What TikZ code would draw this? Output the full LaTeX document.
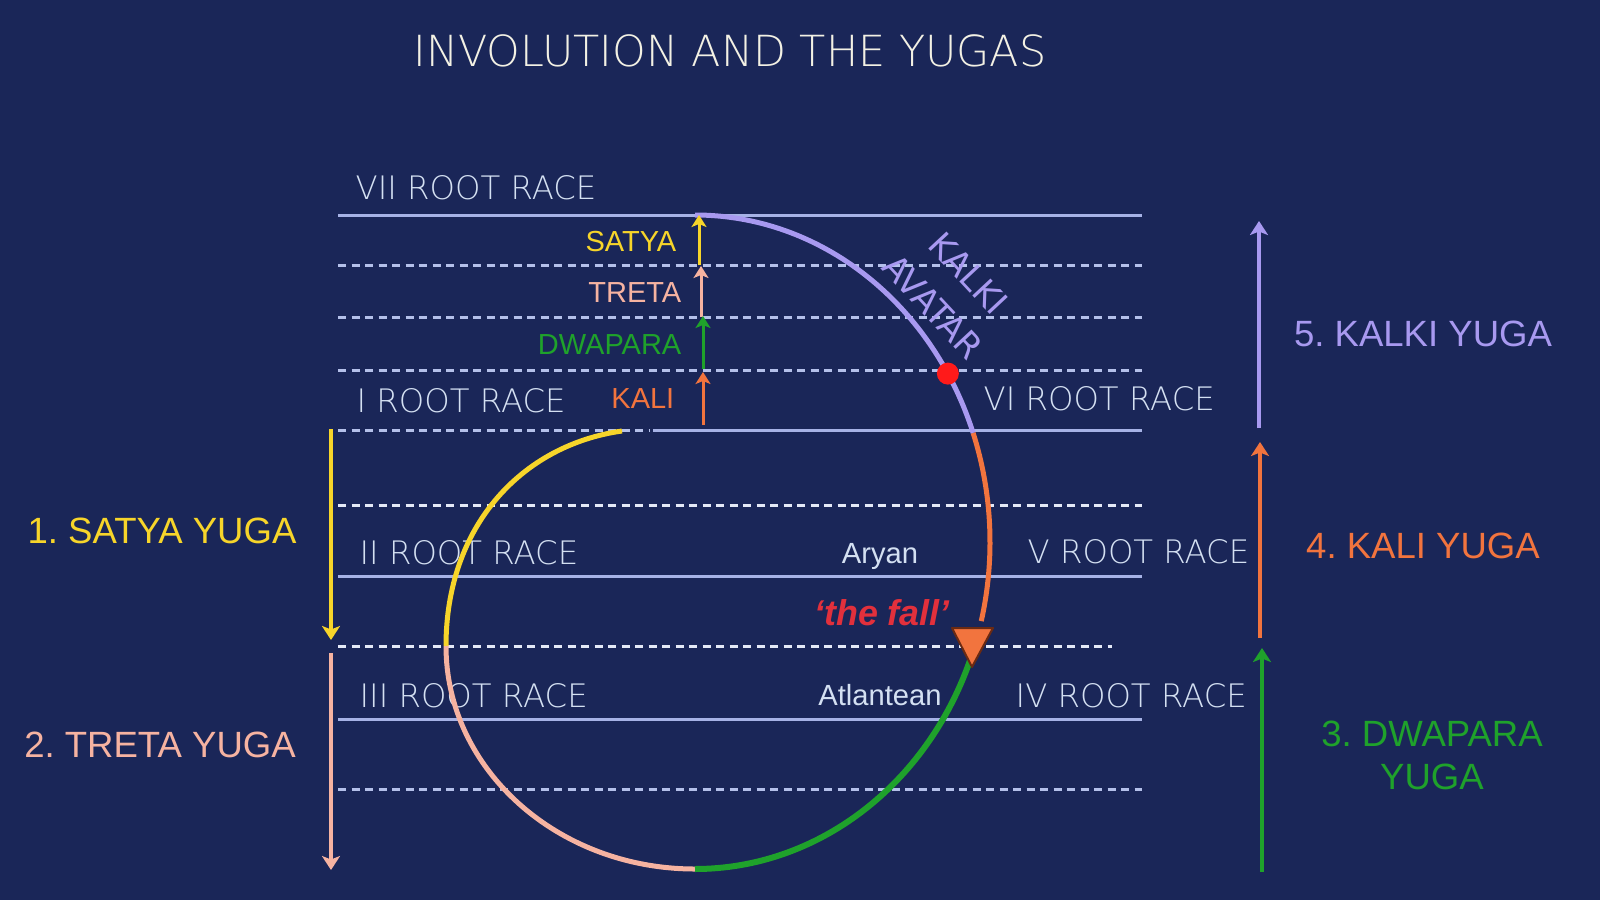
\documentclass[tikz,border=0pt]{standalone}
\usepackage{fontspec}
\setmainfont{Liberation Sans}
\newfontfamily\raceFont{DejaVu Sans ExtraLight}
\newfontfamily\avatarFont{DejaVu Sans}
\usepackage{xcolor}
\usepackage{tikz}
\usetikzlibrary{arrows.meta}
\usetikzlibrary{calc}
\usetikzlibrary{positioning}

\definecolor{bgNavy}{HTML}{1A2658}
\definecolor{ruleBlue}{HTML}{A6B2E6}
\definecolor{dashBlue}{HTML}{B4C0EA}
\definecolor{dashWhite}{HTML}{E4E9F7}
\definecolor{raceText}{HTML}{D4E0F2}
\definecolor{titleCream}{HTML}{F3F1E4}
\definecolor{kalkiLav}{HTML}{A899F0}
\definecolor{kaliOrange}{HTML}{F2743E}
\definecolor{dwaparaGreen}{HTML}{1FA22B}
\definecolor{tretaSalmon}{HTML}{F6B3A1}
\definecolor{satyaYellow}{HTML}{F7D52A}
\definecolor{fallRed}{HTML}{E2303C}
\definecolor{dotRed}{HTML}{FF1A1A}
\definecolor{triBrown}{HTML}{6B2A12}

\begin{document}
\frenchspacing
\begin{tikzpicture}[
  x=1mm, y=1mm,
  spiral/.style={line width=0.5mm},
  yugaArrow/.style={-{Stealth[length=1.4mm,width=1.8mm,inset=0.35mm]}, line width=0.4mm},
  stepArrow/.style={-{Stealth[length=1.2mm,width=1.5mm,inset=0.3mm]}, line width=0.3mm},
  % yugaText/.style={},
]

\tikzset{
  raceRule/.style={draw=ruleBlue, line width=0.3mm},
  dashRule/.style={draw=#1, line width=0.3mm, dash pattern=on 0.8mm off 0.55mm},
  bigYuga/.style={font=\fontsize{10.4}{12.2}\selectfont, inner sep=0, align=center},
  smallYuga/.style={font=\fontsize{8.25}{10}\selectfont, anchor=base east, inner sep=0},
  kalkiText/.style={font=\avatarFont\fontsize{9.7}{13.8}\selectfont, text=kalkiLav, inner sep=0, align=center, rotate=-47}
}

\fill[bgNavy] (0,0) rectangle (160,90);
\useasboundingbox (0,0) rectangle (160,90);

\node[font=\raceFont\fontsize{12.2}{14}\selectfont, text=titleCream, inner sep=0] (title) at (73.0,84.9) {INVOLUTION AND THE YUGAS};

% --- Begin Rules ---
\foreach \y in {68.5,32.4,18.1} {
  \draw[raceRule] (33.8,\y) -- (114.2,\y);
}
\foreach \y in {63.5,58.3,53.0,11.1} {
  \draw[dashRule=dashBlue] (33.8,\y) -- (114.2,\y);
}
\draw[dashRule=dashBlue] (33.8,47.0) -- (65.0,47.0);
\draw[raceRule] (65.3,47.0) -- (114.2,47.0);
\draw[dashRule=dashWhite] (33.8,39.5) -- (114.2,39.5);
\draw[dashRule=dashWhite] (33.8,25.4) -- (111.2,25.4);

\begin{scope}[
  every node/.style={font=\raceFont\fontsize{9.2}{11}\selectfont, text=raceText, anchor=base west, inner sep=0}
  ]
\node (raceSeven) at (35.5,70.1) {VII ROOT RACE};
\node (raceOne) at (35.6,48.8) {I ROOT RACE};
\node (raceSix) at (98.3,49.0) {VI ROOT RACE};
\node (raceTwo) at (35.9,33.6) {II ROOT RACE};
\node (raceFive) at (102.7,33.7) {V ROOT RACE};
\node (raceThree) at (35.9,19.3) {III ROOT RACE};
\node (raceFour) at (101.5,19.3) {IV ROOT RACE};
\end{scope}

\begin{scope}[every node/.style={font=\fontsize{8.3}{10}\selectfont, text=raceText, anchor=base, inner sep=0}]
\node (aryan) at (88.0,33.7) {Aryan};
\node (atlantean) at (88.0,19.5) {Atlantean};
\end{scope}
\node[font=\fontsize{10.2}{12}\selectfont\bfseries\itshape, text=fallRed, anchor=base, inner sep=0] (theFall) at (88.2,27.5) {‘the fall’};

% --- Begin Spiral ---
\coordinate (ctrRight) at (69.5,35.8);
\coordinate (ctrLeft) at (69.5,25.4);
\coordinate (spiralStart) at (62.2,46.9);
\coordinate (leftMost) at (44.6,25.4);
\coordinate (bottom) at (69.5,3.1);

\draw[spiral, satyaYellow] (spiralStart) .. controls (52.2,45.5) and (44.6,37.4) .. (leftMost);
\draw[spiral, tretaSalmon] (leftMost) arc[start angle=180, end angle=270, x radius=24.9mm, y radius=22.3mm];
\draw[spiral, dwaparaGreen, line width=0.6mm] (bottom) arc[start angle=-90, end angle=-21, x radius=29.5mm, y radius=32.7mm];
\draw[spiral, kaliOrange] (ctrRight) ++(-14:29.5mm and 32.7mm) arc[start angle=-14, end angle=19.5, x radius=29.5mm, y radius=32.7mm];
\draw[spiral, kalkiLav] (ctrRight) ++(19.5:29.5mm and 32.7mm) arc[start angle=19.5, end angle=90, x radius=29.5mm, y radius=32.7mm];

\filldraw[fill=kaliOrange, draw=triBrown, line width=0.2mm, line join=round] (95.2,27.2) -- (99.3,27.2) -- (97.2,23.3) -- cycle;
\path (ctrRight) ++(31:29.5mm and 32.7mm) node[circle, fill=dotRed, minimum size=2.2mm, inner sep=0] (kalkiDot) {};

\node[kalkiText] (kalkiAvatar) at (95.1,61.0) {KALKI\\AVATAR};

% --- Begin Small Yuga Steps ---
\coordinate (satyaLo) at (69.9,63.5);   \coordinate (satyaHi) at (69.9,68.5);
\coordinate (tretaLo) at (70.1,58.3);   \coordinate (tretaHi) at (70.1,63.4);
\coordinate (dwaparaLo) at (70.3,53.1); \coordinate (dwaparaHi) at (70.3,58.4);
\coordinate (kaliLo) at (70.3,47.5);    \coordinate (kaliHi) at (70.3,52.8);

\draw[stepArrow, satyaYellow] (satyaLo) -- (satyaHi);
\draw[stepArrow, tretaSalmon] (tretaLo) -- (tretaHi);
\draw[stepArrow, dwaparaGreen] (dwaparaLo) -- (dwaparaHi);
\draw[stepArrow, kaliOrange] (kaliLo) -- (kaliHi);

\node[smallYuga, text=satyaYellow] (satyaStep) at (67.7,64.9) {SATYA};
\node[smallYuga, text=tretaSalmon] (tretaStep) at (68.2,59.8) {TRETA};
\node[smallYuga, text=dwaparaGreen] (dwaparaStep) at (68.2,54.6) {DWAPARA};
\node[smallYuga, text=kaliOrange] (kaliStep) at (67.5,49.2) {KALI};

% --- Begin Big Yuga Arrows ---
\coordinate (kalkiLo) at (125.9,47.2);  \coordinate (kalkiHi) at (125.9,67.9);
\coordinate (kaliBLo) at (126.0,26.2);  \coordinate (kaliBHi) at (126.0,45.8);
\coordinate (dwapBLo) at (126.2,2.8);   \coordinate (dwapBHi) at (126.2,25.2);
\coordinate (satyaBHi) at (33.1,47.1);  \coordinate (satyaBLo) at (33.1,26.0);
\coordinate (tretaBHi) at (33.1,24.7);  \coordinate (tretaBLo) at (33.1,3.0);

\draw[yugaArrow, kalkiLav] (kalkiLo) -- (kalkiHi);
\draw[yugaArrow, kaliOrange] (kaliBLo) -- (kaliBHi);
\draw[yugaArrow, dwaparaGreen] (dwapBLo) -- (dwapBHi);
\draw[yugaArrow, satyaYellow] (satyaBHi) -- (satyaBLo);
\draw[yugaArrow, tretaSalmon] (tretaBHi) -- (tretaBLo);

\node[bigYuga, text=kalkiLav, anchor=base] (kalkiYuga) at (142.3,55.4) {5. KALKI YUGA};
\node[bigYuga, text=kaliOrange, anchor=base] (kaliYuga) at (142.3,34.2) {4. KALI YUGA};
\node[bigYuga, text=dwaparaGreen] (dwaparaYuga) at (143.2,14.45) {3. DWAPARA\\YUGA};
\node[bigYuga, text=satyaYellow, anchor=base] (satyaYuga) at (16.2,35.7) {1. SATYA YUGA};
\node[bigYuga, text=tretaSalmon, anchor=base] (tretaYuga) at (16.0,14.3) {2. TRETA YUGA};

\end{tikzpicture}
\end{document}
